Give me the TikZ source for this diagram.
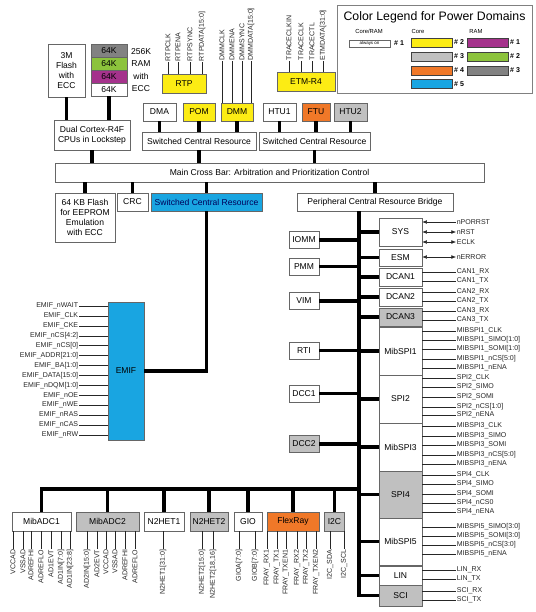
\documentclass[tikz,border=0pt]{standalone}
\usepackage{fontspec}
\setmainfont{Liberation Sans}
\usetikzlibrary{arrows.meta}

\definecolor{pdyellow}{RGB}{252,236,20}
\definecolor{pdgray}{RGB}{192,192,192}
\definecolor{pdorange}{RGB}{240,120,40}
\definecolor{pdblue}{RGB}{25,165,225}
\definecolor{rampurple}{RGB}{165,50,140}
\definecolor{ramgreen}{RGB}{140,195,60}
\definecolor{ramgray}{RGB}{130,130,130}

\begin{document}
\begin{tikzpicture}[x=0.03cm,y=-0.03cm,
  >={Latex[length=4pt,width=3.2pt]},
  blk/.style={draw=black!60,line width=.5pt,fill=white,inner sep=0pt,align=center,
    font=\fontsize{7.3}{8.6}\selectfont},
  sz/.style 2 args={minimum width=#1*0.03cm,minimum height=#2*0.03cm},
  bus/.style={line width=3.3pt},
  sig/.style={line width=.45pt,black!85},
  lab/.style={inner sep=.5pt,font=\fontsize{6}{6}\selectfont,text=black!85},
  num/.style={anchor=west,inner sep=0pt,font=\bfseries\fontsize{6}{6}\selectfont}]

\useasboundingbox (0,0) rectangle (536,612);

% CPU, flash and RAM
\node[blk,sz={37}{53}] (flash) at (66.5,70.5) {3M\\Flash\\with\\ECC};
\foreach \y/\c [count=\i] in {50.5/ramgray,63.5/ramgreen,76.5/rampurple,89.5/white}
  \node[blk,fill=\c,sz={36}{13}] (ram\i) at (109,\y) {64K};
\node[align=center,inner sep=0pt,font=\fontsize{7.3}{10.5}\selectfont] (ramtxt) at (141,70) {256K\\RAM\\with\\ECC};
\node[blk,sz={76}{30}] (cpu) at (92,135) {Dual Cortex-R4F\\CPUs in Lockstep};
\node[blk,sz={429}{19}] (xbar) at (269.5,172.5) {Main Cross Bar: Arbitration and Prioritization Control};

% masters above the cross bar
\node[blk,fill=pdyellow,sz={44}{19}] (rtp) at (184,83.5) {RTP};
\node[blk,sz={33}{18}] (dma) at (159.5,112) {DMA};
\node[blk,fill=pdyellow,sz={32}{18}] (pom) at (199,112) {POM};
\node[blk,fill=pdyellow,sz={32}{18}] (dmm) at (237,112) {DMM};
\node[blk,sz={114}{18}] (scrL) at (199,141) {Switched Central Resource};
\node[blk,fill=pdyellow,sz={58}{19}] (etm) at (306,81.5) {ETM-R4};
\node[blk,sz={33}{18}] (htu1) at (279.5,112) {HTU1};
\node[blk,fill=pdorange,sz={28}{18}] (ftu) at (316,112) {FTU};
\node[blk,fill=pdgray,sz={33}{18}] (htu2) at (350.5,112) {HTU2};
\node[blk,sz={111}{18}] (scrR) at (314.5,141) {Switched Central Resource};

% slaves below the cross bar
\node[blk,sz={60}{49}] (eeprom) at (85,217.5) {64 KB Flash\\for EEPROM\\Emulation\\with ECC};
\node[blk,sz={31}{18}] (crc) at (132.5,202) {CRC};
\node[blk,fill=pdblue,text=blue!35!black,sz={111}{18}] (scrB) at (206.5,202) {Switched Central Resource};
\node[blk,fill=pdblue,sz={36}{138}] (emif) at (126,371) {EMIF};
\node[blk,sz={156}{18}] (pcrb) at (375,202) {Peripheral Central Resource Bridge};

\foreach \n/\t/\y/\c in {iomm/IOMM/240/white,pmm/PMM/266.5/white,vim/VIM/301/white,
    rti/RTI/350.5/white,dcc1/DCC1/393.5/white,dcc2/DCC2/444/pdgray}
  \node[blk,fill=\c,sz={30}{17}] (\n) at (304,\y) {\t};

\foreach \n/\t/\y/\h/\c in {sys/SYS/232/28/white,esm/ESM/257.5/17/white,
    dcan1/DCAN1/277/18/white,dcan2/DCAN2/297/18/white,dcan3/DCAN3/317/18/pdgray,
    mspi1/MibSPI1/351/48/white,spi2/SPI2/399/48/white,mspi3/MibSPI3/447/48/white,
    spi4/SPI4/494.5/47/pdgray,mspi5/MibSPI5/541.5/47/white,lin/LIN/575.5/19/white,
    sci/SCI/595.5/21/pdgray}
  \node[blk,fill=\c,sz={43}{\h}] (\n) at (400.5,\y) {\t};

\foreach \n/\t/\x/\w/\c in {adc1/MibADC1/41.5/59/white,adc2/MibADC2/107.5/63/pdgray,
    het1/N2HET1/164/40/white,het2/N2HET2/209/38/pdgray,gio/GIO/248/28/white,
    fray/FlexRay/293/52/pdorange,i2c/I2C/334.5/20/pdgray}
  \node[blk,fill=\c,sz={\w}{19}] (\n) at (\x,521.5) {\t};

% buses
\coordinate (bb) at (359,489);
\draw[bus] (flash.south) -- (flash.south |- cpu.north);
\draw[bus] (ram4.south) -- (ram4.south |- cpu.north);
\draw[bus] (cpu.south) -- (cpu.south |- xbar.north);
\foreach \b in {dma,pom,dmm} \draw[bus] (\b.south) -- (\b.south |- scrL.north);
\foreach \b in {htu1,ftu,htu2} \draw[bus] (\b.south) -- (\b.south |- scrR.north);
\foreach \b in {scrL,scrR} \draw[bus] (\b.south) -- (\b.south |- xbar.north);
\foreach \b in {eeprom,crc,scrB,pcrb} \draw[bus] (\b.north |- xbar.south) -- (\b.north);
\draw[bus] (scrB.south) |- (emif.east);
\draw[bus] (pcrb.south -| bb) -- (bb |- sci.west) -- (sci.west);
\draw[bus] (bb) -| (adc1.north);
\foreach \b in {adc2,het1,het2,gio,fray,i2c} \draw[bus] (\b.north |- bb) -- (\b.north);
\foreach \b in {iomm,pmm,vim,rti,dcc1,dcc2} \draw[bus] (\b.east) -- (\b.east -| bb);
\foreach \b in {sys,esm,dcan1,dcan2,dcan3,mspi1,spi2,mspi3,spi4,mspi5,lin}
  \draw[bus] (\b.west -| bb) -- (\b.west);

% pins on top
\foreach \x/\t [count=\i] in {168/RTPCLK,178/RTPENA,190/RTPSYNC,202/{RTPDATA[15:0]}} {
  \node[lab,rotate=90,anchor=west] (rs\i) at (\x,62) {\t};
  \draw[sig] (rs\i.west) -- (rs\i.west |- rtp.north);
}
\foreach \x/\t [count=\i] in {222/DMMCLK,232/DMMENA,242/DMMSYNC,251/{DMMDATA[15:0]}} {
  \node[lab,rotate=90,anchor=west] (ds\i) at (\x,61) {\t};
  \draw[sig] (ds\i.west) -- (ds\i.west |- dmm.north);
}
\foreach \x/\t [count=\i] in {289/TRACECLKIN,301/TRACECLK,312/TRACECTL,323/{ETMDATA[31:0]}} {
  \node[lab,rotate=90,anchor=west] (ts\i) at (\x,61) {\t};
  \draw[sig] (ts\i.west) -- (ts\i.west |- etm.north);
}

% EMIF pins
\foreach \t [count=\i] in {EMIF\_nWAIT,EMIF\_CLK,EMIF\_CKE,{EMIF\_nCS[4:2]},{EMIF\_nCS[0]},
    {EMIF\_ADDR[21:0]},{EMIF\_BA[1:0]},{EMIF\_DATA[15:0]},{EMIF\_nDQM[1:0]},EMIF\_nOE,
    EMIF\_nWE,EMIF\_nRAS,EMIF\_nCAS,EMIF\_nRW} {
  \node[lab,anchor=east] (em\i) at (79,{296.08+9.92*\i}) {\t};
  \draw[sig] (em\i.east) -- (em\i.east -| emif.west);
}

% pins on the right
\node[lab,anchor=west] (nporrst) at (456,222) {nPORRST};
\node[lab,anchor=west] (nrst) at (456,232) {nRST};
\node[lab,anchor=west] (eclk) at (456,242) {ECLK};
\node[lab,anchor=west] (nerror) at (456,257) {nERROR};
\draw[sig,<-] (nporrst.west -| sys.east) -- (nporrst.west);
\draw[sig,<->] (nrst.west -| sys.east) -- (nrst.west);
\draw[sig,<->] (eclk.west -| sys.east) -- (eclk.west);
\draw[sig,<->] (nerror.west -| esm.east) -- (nerror.west);
\foreach \y/\b/\t [count=\i] in {272/dcan1/CAN1\_RX,281/dcan1/CAN1\_TX,
    292/dcan2/CAN2\_RX,301/dcan2/CAN2\_TX,311/dcan3/CAN3\_RX,320/dcan3/CAN3\_TX,
    331/mspi1/MIBSPI1\_CLK,340/mspi1/{MIBSPI1\_SIMO[1:0]},349/mspi1/{MIBSPI1\_SOMI[1:0]},
    359/mspi1/{MIBSPI1\_nCS[5:0]},368/mspi1/MIBSPI1\_nENA,
    378/spi2/SPI2\_CLK,387/spi2/SPI2\_SIMO,397/spi2/SPI2\_SOMI,
    407/spi2/{SPI2\_nCS[1:0]},415/spi2/SPI2\_nENA,
    426/mspi3/MIBSPI3\_CLK,436/mspi3/MIBSPI3\_SIMO,445/mspi3/MIBSPI3\_SOMI,
    455/mspi3/{MIBSPI3\_nCS[5:0]},464/mspi3/MIBSPI3\_nENA,
    475/spi4/SPI4\_CLK,484/spi4/SPI4\_SIMO,494/spi4/SPI4\_SOMI,503/spi4/SPI4\_nCS0,
    512/spi4/SPI4\_nENA,
    527/mspi5/{MIBSPI5\_SIMO[3:0]},536/mspi5/{MIBSPI5\_SOMI[3:0]},
    545/mspi5/{MIBSPI5\_nCS[3:0]},554/mspi5/MIBSPI5\_nENA,
    570/lin/LIN\_RX,579/lin/LIN\_TX,591/sci/SCI\_RX,600/sci/SCI\_TX} {
  \node[lab,anchor=west] (rp\i) at (456,\y) {\t};
  \draw[sig] (rp\i.west -| \b.east) -- (rp\i.west);
}

% pins at the bottom
\foreach \x/\b/\t [count=\i] in {13/adc1/VCCAD,23/adc1/VSSAD,31/adc1/ADREFHI,
    41/adc1/ADREFLO,51/adc1/AD1EVT,61/adc1/{AD1IN[7:0]},70/adc1/{AD1IN[23:8]},
    87/adc2/{AD2IN[15:0]},97/adc2/AD2EVT,106/adc2/VCCAD,115/adc2/VSSAD,
    125/adc2/ADREFHI,135/adc2/ADREFLO,163/het1/{N2HET1[31:0]},
    202/het2/{N2HET2[15:0]},213/het2/{N2HET2[18,16]},239/gio/{GIOA[7:0]},
    255/gio/{GIOB[7:0]},267/fray/FRAY\_RX1,277/fray/FRAY\_TX1,286/fray/FRAY\_TXEN1,
    297/fray/FRAY\_RX2,306/fray/FRAY\_TX2,316/fray/FRAY\_TXEN2,
    330/i2c/I2C\_SDA,344/i2c/I2C\_SCL} {
  \node[lab,rotate=90,anchor=east] (bp\i) at (\x,549) {\t};
  \draw[sig] (bp\i.east) -- (bp\i.east |- \b.south);
}

% legend
\node[draw=black!50,line width=.8pt,sz={195}{88}] (leg) at (434.5,49) {};
\node[font=\fontsize{10.5}{12}\selectfont] (legtitle) at (434.5,17) {Color Legend for Power Domains};
\node[font=\fontsize{5}{6}\selectfont] (legcr) at (369,31) {Core/RAM};
\node[font=\fontsize{5}{6}\selectfont] (legc) at (418,31) {Core};
\node[font=\fontsize{5}{6}\selectfont] (legr) at (476,31) {RAM};
\node[blk,sz={41}{7},font=\fontsize{3.8}{4}\selectfont] (aon) at (369.5,43.5) {always on};
\node[num] (aonn) at (394,43.5) {\# 1};
\foreach \y/\c/\t [count=\i] in {42.5/pdyellow/2,56.5/pdgray/3,70.5/pdorange/4,84/pdblue/5} {
  \node[blk,fill=\c,draw=black!75,sz={41}{9}] (core\i) at (431.5,\y) {};
  \node[num] (coren\i) at (454,\y) {\# \t};
}
\foreach \y/\c/\t [count=\i] in {42.5/rampurple/1,56.5/ramgreen/2,70.5/ramgray/3} {
  \node[blk,fill=\c,draw=black!75,sz={41}{9}] (rsw\i) at (487.5,\y) {};
  \node[num] (rswn\i) at (510,\y) {\# \t};
}
\end{tikzpicture}
\end{document}
